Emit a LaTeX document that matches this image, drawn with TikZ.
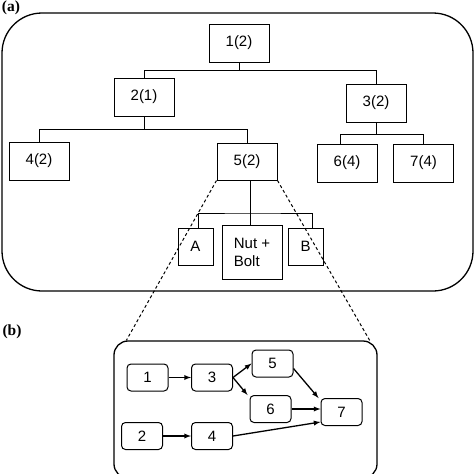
\documentclass[tikz,border=0pt]{standalone}
\usepackage{fontspec}
\setmainfont{Liberation Sans}
\newfontfamily\panelfont{Liberation Serif}

\tikzset{
  part/.style={draw, line width=1pt, minimum width=60pt, minimum height=38pt, inner sep=0pt, font=\fontsize{15}{18}\selectfont},
  smallpart/.style={part, minimum width=35pt, minimum height=37pt},
  task/.style={draw, line width=1pt, rounded corners=4pt, minimum width=41pt, minimum height=27pt, inner sep=0pt, font=\fontsize{15}{16}\selectfont},
  frame/.style={draw, line width=1.3pt, inner sep=0pt},
  panel/.style={font=\panelfont\bfseries\fontsize{15.5}{16}\selectfont},
  link/.style={line width=1pt},
  zoomline/.style={line width=1pt, dash pattern=on 3pt off 2.5pt},
  flow/.style={line width=1.3pt, >=latex, ->}
}

\begin{document}
\begin{tikzpicture}[x=1pt, y=-1pt]

\useasboundingbox (0,0) rectangle (474,474);
\clip (0,0) rectangle (474,474);

% panel (a): product tree
\node[panel] (la) at (11,8) {(a)};
\node[frame, rounded corners=40pt, minimum width=471pt, minimum height=278pt] (frameA) at (237.5,152) {};

\node[part] (n1) at (239,43) {1(2)};
\node[part] (n2) at (144,97) {2(1)};
\node[part] (n3) at (376,103) {3(2)};
\node[part] (n4) at (39,161) {4(2)};
\node[part, minimum height=37pt] (n5) at (247,161.5) {5(2)};
\node[part] (n6) at (347,163) {6(4)};
\node[part] (n7) at (423.5,163) {7(4)};
\node[smallpart] (nA) at (195.5,246.5) {A};
\node[part, minimum height=54pt, align=left] (nNB) at (252,252) {Nut +\\Bolt};
\node[smallpart] (nB) at (305.5,246.5) {B};

\draw[link] (n1.south) -- ++(0,8) coordinate (b1);
\draw[link] (n2.north) |- (b1) -| (n3.north);
\draw[link] (n2.south) -- ++(0,13) coordinate (b2);
\draw[link] (n4.north) |- (b2) -| (n5.north);
\draw[link] (n3.south) -- ++(0,12) coordinate (b3);
\draw[link] ([xshift=-7pt]n6.north) |- (b3) -| (n7.north);
\coordinate (b5) at (250,213);
\draw[link] (b5 |- n5.south) -- (b5 |- nNB.north);
\draw[link] ([xshift=2.5pt]nA.north) |- (b5) -| ([xshift=6.5pt]nB.north);

% panel (b): assembly sequence
\node[panel] (lb) at (12,332) {(b)};
\node[frame, rounded corners=14pt, minimum width=263pt, minimum height=137pt] (frameB) at (245.5,409.5) {};

\draw[zoomline] (n5.south west) -- ([xshift=13pt]frameB.north west);
\draw[zoomline] (n5.south east) -- ([xshift=-8pt]frameB.north east);

\node[task] (m1) at (147.5,377.5) {1};
\node[task] (m3) at (212,377.5) {3};
\node[task] (m5) at (272.5,363.5) {5};
\node[task] (m6) at (270.5,409) {6};
\node[task] (m7) at (341.5,412) {7};
\node[task] (m2) at (142,436) {2};
\node[task] (m4) at (212,436) {4};

\draw[flow] (m1.east) -- (m3.west);
\draw[flow] (m3.east) -- (m5.west);
\draw[flow] (m3.east) -- ([xshift=-2pt]m6.north west);
\draw[flow] ([yshift=-5pt]m5.east) -- ([xshift=-2pt]m7.north west);
\draw[flow] (m6.east) -- (m6.east -| m7.west);
\draw[flow] (m2.east) -- (m4.west);
\draw[flow] (m4.east) -- ([yshift=4pt]m7.south west);

\end{tikzpicture}
\end{document}
